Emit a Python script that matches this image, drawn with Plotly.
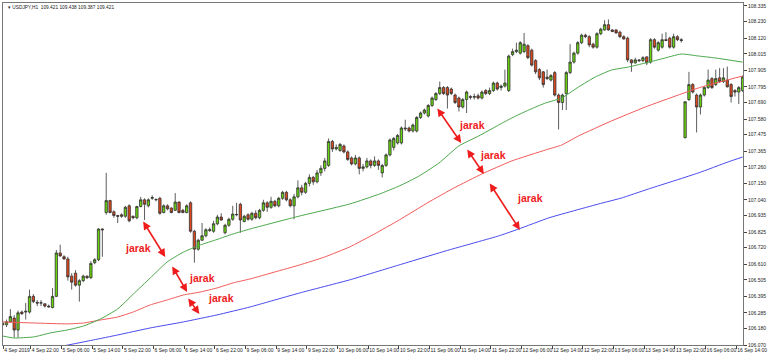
import plotly.graph_objects as go

# ---------------- data ----------------
opens = [106.215,106.205,106.225,106.25,106.17,106.29,106.29,106.29,106.395,106.355,
         106.35,106.345,106.33,106.32,106.395,106.685,106.66,106.645,106.53,106.55,
         106.47,106.50,106.53,106.52,106.62,106.64,106.845,106.955,107.035,106.96,
         106.935,106.94,106.93,107.0,106.93,106.92,106.995,107.04,107.0,107.05,
         107.04,107.05,106.955,107.0,106.985,106.97,107.025,106.97,106.955,107.02,
         106.83,106.71,106.77,106.80,106.835,106.83,106.88,106.925,106.82,106.87,
         106.91,106.94,107.01,106.895,106.94,106.91,106.95,106.92,106.97,107.02,
         106.99,107.03,107.0,107.05,107.09,107.04,107.0,107.06,107.12,107.09,
         107.15,107.19,107.16,107.22,107.25,107.27,107.43,107.38,107.37,107.40,
         107.36,107.32,107.28,107.32,107.25,107.26,107.30,107.27,107.30,107.22,
         107.27,107.34,107.39,107.42,107.42,107.52,107.52,107.50,107.50,107.59,
         107.62,107.60,107.67,107.71,107.75,107.79,107.79,107.78,107.74,107.72,
         107.66,107.71,107.73,107.725,107.735,107.72,107.77,107.75,107.77,107.82,
         107.79,107.80,107.77,108.01,108.03,108.02,108.03,108.07,108.04,107.97,
         107.91,107.895,107.86,107.84,107.89,107.74,107.69,107.75,107.89,107.96,
         108.02,108.09,108.14,108.13,108.08,108.06,108.15,108.175,108.21,108.175,
         108.175,108.16,108.13,108.12,107.975,107.955,107.975,107.97,107.995,107.96,
         108.11,108.04,108.06,108.11,108.12,108.06,108.13,108.11,107.455,107.71,
         107.81,107.74,107.66,107.74,107.79,107.85,107.81,107.855,107.83,107.84,
         107.81,107.77,107.76,107.77]
highs = [106.235,106.24,106.31,106.27,106.30,106.30,106.35,106.44,106.41,106.37,
         106.37,106.35,106.34,106.45,106.705,106.74,106.67,106.66,106.55,106.57,
         106.51,106.54,106.535,106.63,106.65,106.85,106.85,107.22,107.04,106.97,
         106.94,106.95,107.0,107.01,106.935,107.0,107.06,107.05,107.05,107.07,
         107.05,107.06,107.01,107.01,106.99,107.085,107.03,106.98,107.01,107.03,
         106.84,106.78,106.885,106.85,106.855,106.90,106.94,106.95,106.88,106.92,
         107.0,107.02,107.02,106.94,106.95,106.96,106.97,106.98,107.04,107.03,
         107.06,107.04,107.06,107.10,107.10,107.05,107.08,107.17,107.14,107.16,
         107.21,107.20,107.24,107.27,107.32,107.45,107.44,107.41,107.42,107.41,
         107.37,107.33,107.34,107.33,107.28,107.32,107.31,107.33,107.31,107.28,
         107.35,107.45,107.46,107.48,107.53,107.575,107.53,107.55,107.60,107.63,
         107.65,107.68,107.73,107.76,107.83,107.80,107.80,107.79,107.75,107.73,
         107.72,107.77,107.74,107.75,107.75,107.77,107.78,107.79,107.83,107.83,
         107.81,107.91,108.01,108.05,108.09,108.10,108.155,108.08,108.05,107.98,
         107.92,107.90,107.91,107.88,107.90,107.75,107.75,107.90,108.08,108.03,
         108.10,108.15,108.15,108.14,108.09,108.16,108.19,108.24,108.245,108.18,
         108.18,108.17,108.14,108.13,107.98,107.99,107.98,108.0,108.0,108.12,
         108.12,108.10,108.15,108.16,108.13,108.15,108.14,108.12,107.70,107.895,
         107.82,107.75,107.75,107.80,107.91,107.86,107.91,107.92,107.92,107.93,
         107.82,107.78,107.80,107.87]
lows = [106.195,106.19,106.22,106.12,106.12,106.27,106.24,106.28,106.35,106.33,
        106.33,106.32,106.32,106.315,106.39,106.66,106.64,106.50,106.44,106.46,
        106.36,106.49,106.51,106.51,106.61,106.63,106.66,106.94,106.95,106.92,
        106.885,106.92,106.92,106.89,106.91,106.91,106.99,106.905,106.99,107.04,
        107.03,106.94,106.95,106.97,106.95,106.965,106.95,106.95,106.95,106.82,
        106.62,106.70,106.765,106.79,106.825,106.82,106.87,106.90,106.81,106.86,
        106.90,106.93,106.82,106.89,106.90,106.90,106.91,106.91,106.96,106.96,
        106.98,106.99,106.99,107.04,107.03,106.99,106.91,107.05,107.07,107.08,
        107.13,107.14,107.15,107.20,107.23,107.26,107.36,107.37,107.36,107.35,
        107.30,107.27,107.27,107.21,107.23,107.25,107.25,107.26,107.24,107.19,
        107.26,107.33,107.37,107.41,107.41,107.50,107.49,107.49,107.49,107.58,
        107.61,107.59,107.66,107.70,107.74,107.74,107.65,107.74,107.68,107.63,
        107.65,107.62,107.71,107.71,107.71,107.71,107.74,107.74,107.76,107.77,
        107.77,107.79,107.76,108.0,108.02,108.01,108.02,107.98,107.93,107.88,
        107.84,107.79,107.84,107.83,107.73,107.51,107.64,107.64,107.88,107.95,
        108.01,108.08,108.12,108.06,108.05,108.05,108.14,108.17,108.17,108.16,
        108.15,108.12,108.11,107.96,107.895,107.95,107.96,107.96,107.94,107.95,
        108.05,108.03,108.05,108.10,108.05,108.05,108.10,108.09,107.45,107.70,
        107.75,107.49,107.61,107.73,107.78,107.78,107.80,107.82,107.82,107.79,
        107.69,107.73,107.68,107.76]
closes = [106.205,106.225,106.26,106.17,106.285,106.28,106.295,106.395,106.36,106.35,
          106.352,106.33,106.325,106.395,106.685,106.665,106.645,106.525,106.49,106.47,
          106.50,106.53,106.52,106.615,106.64,106.845,106.84,107.035,106.955,106.935,
          106.93,106.93,106.99,106.90,106.92,106.995,107.04,107.01,107.04,107.055,
          107.042,106.95,107.0,106.98,106.955,107.025,106.955,106.955,107.0,106.83,
          106.71,106.77,106.80,106.84,106.84,106.88,106.925,106.905,106.87,106.91,
          106.945,106.942,106.905,106.93,106.91,106.95,106.92,106.97,107.02,106.99,
          107.03,107.0,107.05,107.09,107.04,107.0,107.06,107.12,107.09,107.15,
          107.19,107.16,107.22,107.25,107.30,107.43,107.38,107.39,107.41,107.36,
          107.31,107.28,107.32,107.25,107.26,107.30,107.27,107.30,107.27,107.27,
          107.34,107.44,107.45,107.47,107.52,107.515,107.50,107.54,107.59,107.62,
          107.64,107.67,107.72,107.75,107.79,107.75,107.74,107.75,107.69,107.66,
          107.71,107.76,107.725,107.73,107.72,107.76,107.75,107.77,107.82,107.78,
          107.80,107.82,108.0,108.03,108.04,108.09,108.08,107.99,107.94,107.895,
          107.855,107.81,107.85,107.87,107.74,107.69,107.74,107.89,107.96,108.02,
          108.09,108.14,108.13,108.075,108.06,108.15,108.18,108.21,108.175,108.165,
          108.155,108.13,108.115,107.975,107.955,107.975,107.97,107.99,107.955,108.11,
          108.06,108.09,108.11,108.105,108.06,108.13,108.11,108.105,107.695,107.81,
          107.76,107.66,107.74,107.79,107.84,107.79,107.85,107.83,107.855,107.795,
          107.73,107.76,107.79,107.86]

ma_green_x = [0,2.9,8.1,12.5,17,21.1,25.5,30,34.1,38.5,42.9,47.1,51.5,55.9,60.1,64.5,
              77.5,90.5,98.3,103.5,108.6,113.8,119.0,124.2,129.4,132.8,137.2,141.6,
              145.8,150.2,154.6,158.8,163.2,167.6,171.8,177,181.4,185.8,193]
ma_green_y = [106.130,106.117,106.124,106.151,106.171,106.197,106.244,106.311,106.411,
              106.518,106.625,106.690,106.738,106.775,106.812,106.845,106.932,107.012,
              107.079,107.133,107.199,107.286,107.400,107.467,107.540,107.587,107.640,
              107.687,107.720,107.794,107.861,107.907,107.927,107.954,107.981,108.014,
              108.001,107.988,107.960]

ma_red_x = [0,8.1,17,21.1,25.5,30,34.1,38.5,42.9,47.1,51.5,55.9,60.1,64.5,71,77.5,84,
            90.5,97,103.4,111.2,117.7,125,132.8,141.6,145.8,150.2,158.8,167.6,176.2,
            180.6,184,193]
ma_red_y = [106.224,106.217,106.211,106.217,106.237,106.257,106.291,106.338,106.371,
            106.404,106.424,106.451,106.485,106.511,106.558,106.605,106.658,106.725,
            106.812,106.905,107.026,107.119,107.213,107.300,107.373,107.406,107.467,
            107.567,107.660,107.740,107.780,107.807,107.867]

ma_blue_x = [15.9,23.7,30,38.5,47.1,55.9,64.5,77.5,90.5,103.4,116.4,129.4,134.6,142.4,
             155.4,161.4,168.4,181.4,189.2,193]
ma_blue_y = [106.064,106.104,106.137,106.184,106.224,106.271,106.324,106.418,106.505,
             106.605,106.705,106.799,106.845,106.919,107.012,107.052,107.112,107.219,
             107.293,107.326]

x_tick_labels = ["4 Sep 2019","4 Sep 22:00","5 Sep 06:00","5 Sep 14:00","5 Sep 22:00",
                 "6 Sep 06:00","6 Sep 14:00","6 Sep 22:00","9 Sep 06:00","9 Sep 14:00",
                 "9 Sep 22:00","10 Sep 06:00","10 Sep 14:00","10 Sep 22:00","11 Sep 06:00",
                 "11 Sep 14:00","11 Sep 22:00","12 Sep 06:00","12 Sep 14:00","12 Sep 22:00",
                 "13 Sep 06:00","13 Sep 14:00","13 Sep 22:00","16 Sep 06:00","16 Sep 14:00"]
y_tick_labels = ["108.335","108.230","108.120","108.015","107.905","107.795","107.690",
                 "107.580","107.475","107.365","107.260","107.150","107.040","106.935",
                 "106.825","106.720","106.610","106.505","106.395","106.285","106.180",
                 "106.070"]

# arrows: (head bar, head price, tail bar, tail price) and text labels
arrows = [(42.4,106.658,36.4,106.905),(48.1,106.424,44.0,106.605),
          (51.3,106.277,48.1,106.391),(119.6,107.420,113.1,107.660),
          (125.5,107.213,120.9,107.386),(134.9,106.839,126.8,107.159)]
label_pos = [(35.2,106.718),(52.0,106.518),(57.0,106.384),
             (122.4,107.540),(127.9,107.340),(137.5,107.052)]
label_text = "jarak"

# ---------------- figure ----------------
idx = list(range(len(opens)))
fig = go.Figure()
fig.add_trace(go.Scatter(x=ma_blue_x, y=ma_blue_y, mode="lines",
                         line=dict(color="#4a4aee", width=1, shape="spline", smoothing=0.4)))
fig.add_trace(go.Scatter(x=ma_red_x, y=ma_red_y, mode="lines",
                         line=dict(color="#f25a5a", width=1, shape="spline", smoothing=0.4)))
fig.add_trace(go.Scatter(x=ma_green_x, y=ma_green_y, mode="lines",
                         line=dict(color="#4aa84a", width=1, shape="spline", smoothing=0.5)))
fig.add_trace(go.Candlestick(
    x=idx, open=opens, high=highs, low=lows, close=closes,
    increasing=dict(fillcolor="#66d40a", line=dict(color="#333333", width=0.8)),
    decreasing=dict(fillcolor="#e0461a", line=dict(color="#333333", width=0.8)),
    whiskerwidth=0))

xt = [0.15] + [8 * k - 0.65 for k in range(1, len(x_tick_labels))]
yt = [float(v) for v in y_tick_labels]

annos = []
for hx, hy, tx, ty in arrows:
    annos.append(dict(x=hx, y=hy, ax=tx, ay=ty, xref="x", yref="y", axref="x", ayref="y",
                      showarrow=True, arrowhead=2, startarrowhead=2, arrowside="end+start",
                      arrowsize=1, startarrowsize=1, arrowwidth=1.6, arrowcolor="#ee1c1c",
                      text=""))
for lx, ly in label_pos:
    annos.append(dict(x=lx, y=ly, xref="x", yref="y", showarrow=False,
                      text="<b>" + label_text + "</b>",
                      font=dict(family="Liberation Sans", size=10.5, color="#ee1c1c")))
annos.append(dict(x=0.004, y=0.999, xref="paper", yref="paper", xanchor="left", yanchor="top",
                  showarrow=False, text="▾ USDJPY,H1  109.421 109.438 109.387 109.421",
                  font=dict(family="Liberation Sans", size=4.8, color="#222222")))

fig.update_layout(
    width=768, height=358, margin=dict(l=2, r=23, t=3, b=13),
    paper_bgcolor="white", plot_bgcolor="white", showlegend=False,
    boxgap=0.12,
    annotations=annos,
    xaxis=dict(range=[0.08, 193.1], rangeslider=dict(visible=False), showgrid=False,
               zeroline=False, tickvals=xt, ticktext=x_tick_labels, ticks="outside",
               ticklen=3, tickcolor="#444444", ticklabelposition="outside right",
               tickangle=0,
               tickfont=dict(family="Liberation Sans", size=5, color="#222222"),
               showline=True, linecolor="#777777", linewidth=1, mirror=True),
    yaxis=dict(range=[106.070, 108.355], side="right", showgrid=False, zeroline=False,
               tickvals=yt, ticktext=y_tick_labels, ticks="outside", ticklen=3,
               tickcolor="#444444",
               tickfont=dict(family="Liberation Sans", size=5, color="#222222"),
               showline=True, linecolor="#777777", linewidth=1, mirror=True),
)
fig.write_html("out.html")
